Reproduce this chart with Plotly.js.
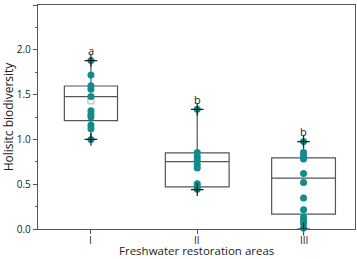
<!DOCTYPE html>
<html><head><meta charset="utf-8">
<script src="https://cdn.plot.ly/plotly-3.0.1.min.js"></script>
<style>html,body{margin:0;padding:0;background:#fff}#c{width:357px;height:259px}</style>
</head><body><div id="c"></div>
<script>
const groups = ['I', 'II', 'III'];
const groupPos = [1, 2, 3];
const pointsI = [1.88, 1.72, 1.60, 1.56, 1.48, 1.32, 1.28, 1.25, 1.16, 1.12, 1.00];
const pointsII = [1.336, 0.853, 0.81, 0.77, 0.72, 0.68, 0.505, 0.474, 0.445];
const pointsIII = [0.976, 0.853, 0.816, 0.78, 0.62, 0.52, 0.345, 0.215, 0.134, 0.096, 0.06, 0.01];
const q1 = [1.21, 0.471, 0.167];
const median = [1.477, 0.753, 0.568];
const q3 = [1.596, 0.85, 0.794];
const lowerWhisker = [1.0, 0.44, 0.0];
const upperWhisker = [1.88, 1.336, 0.976];
const meanI = 1.43;
const letters = ['a', 'b', 'b'];
const boxWidths = [0.5, 0.6, 0.6];
const xTitle = 'Freshwater restoration areas';
const yTitle = 'Holisitc biodiversity';

const allPoints = [pointsI, pointsII, pointsIII];
const lineCol = '#555555';
const teal = '#138b8b';
const traces = [];
groupPos.forEach((p, i) => {
  traces.push({
    type: 'box', x: [p], q1: [q1[i]], median: [median[i]], q3: [q3[i]],
    lowerfence: [lowerWhisker[i]], upperfence: [upperWhisker[i]],
    width: boxWidths[i], whiskerwidth: 0, fillcolor: 'rgba(0,0,0,0)',
    line: {color: lineCol, width: 1.2}, hoverinfo: 'skip', showlegend: false
  });
});
traces.push({
  type: 'scatter', mode: 'markers', x: [1], y: [meanI], cliponaxis: false,
  marker: {symbol: 'square-open', size: 6, color: '#b0b0b0', line: {width: 1}}, showlegend: false
});
groupPos.forEach((p, i) => {
  traces.push({
    type: 'scatter', mode: 'markers', x: allPoints[i].map(() => p), y: allPoints[i],
    cliponaxis: false, marker: {color: teal, size: 7}, showlegend: false
  });
});
traces.push({
  type: 'scatter', mode: 'markers', x: groupPos.concat(groupPos),
  y: upperWhisker.concat(lowerWhisker), cliponaxis: false,
  marker: {symbol: 'cross-thin', size: 9, line: {color: '#1a1a1a', width: 1.2}}, showlegend: false
});

const txt = '#222222';
const fam = 'Open Sans, sans-serif';
const mB = 29.7, mT = 4.7, H = 259;
const layout = {
  width: 357, height: H, margin: {l: 38, r: 2, t: mT, b: mB},
  paper_bgcolor: '#fff', plot_bgcolor: '#fff', font: {family: fam, color: txt, size: 11},
  boxmode: 'overlay', showlegend: false,
  xaxis: {
    range: [0.502, 3.484], tickvals: groupPos, showticklabels: false, ticks: 'outside', ticklen: 4,
    tickcolor: lineCol, showline: true, linecolor: lineCol, linewidth: 1.2, mirror: true,
    showgrid: false, zeroline: false
  },
  yaxis: {
    range: [0, 2.5], dtick: 0.5, tickformat: '.1f', ticks: 'outside', ticklen: 4,
    tickcolor: lineCol, showline: true, linecolor: lineCol, linewidth: 1.2, mirror: true,
    showgrid: false, zeroline: false, tickfont: {size: 10, color: txt, family: fam},
    minor: {dtick: 0.25, ticks: 'outside', ticklen: 2, tickcolor: lineCol, showgrid: false},
    title: {text: yTitle, font: {size: 12, color: txt, family: fam}, standoff: 4}
  },
  annotations: groupPos.map((p, i) => ({
    x: p, y: upperWhisker[i], text: letters[i], showarrow: false, yshift: 10,
    font: {size: 11, color: txt, family: fam}, xref: 'x', yref: 'y'
  })).concat(groupPos.map((p, i) => ({
    x: p, y: 0, xref: 'x', yref: 'paper', yanchor: 'top', yshift: -3, borderpad: 0,
    text: groups[i], showarrow: false, font: {size: 10, color: txt, family: fam}
  }))).concat([{
    x: 0.5, y: -mB / (H - mT - mB), xref: 'paper', yref: 'paper', yanchor: 'bottom', yshift: 0,
    text: xTitle, showarrow: false, borderpad: 0,
    font: {size: 11.5, color: txt, family: fam}
  }])
};
Plotly.newPlot('c', traces, layout, {displayModeBar: false, staticPlot: true});
</script></body></html>
